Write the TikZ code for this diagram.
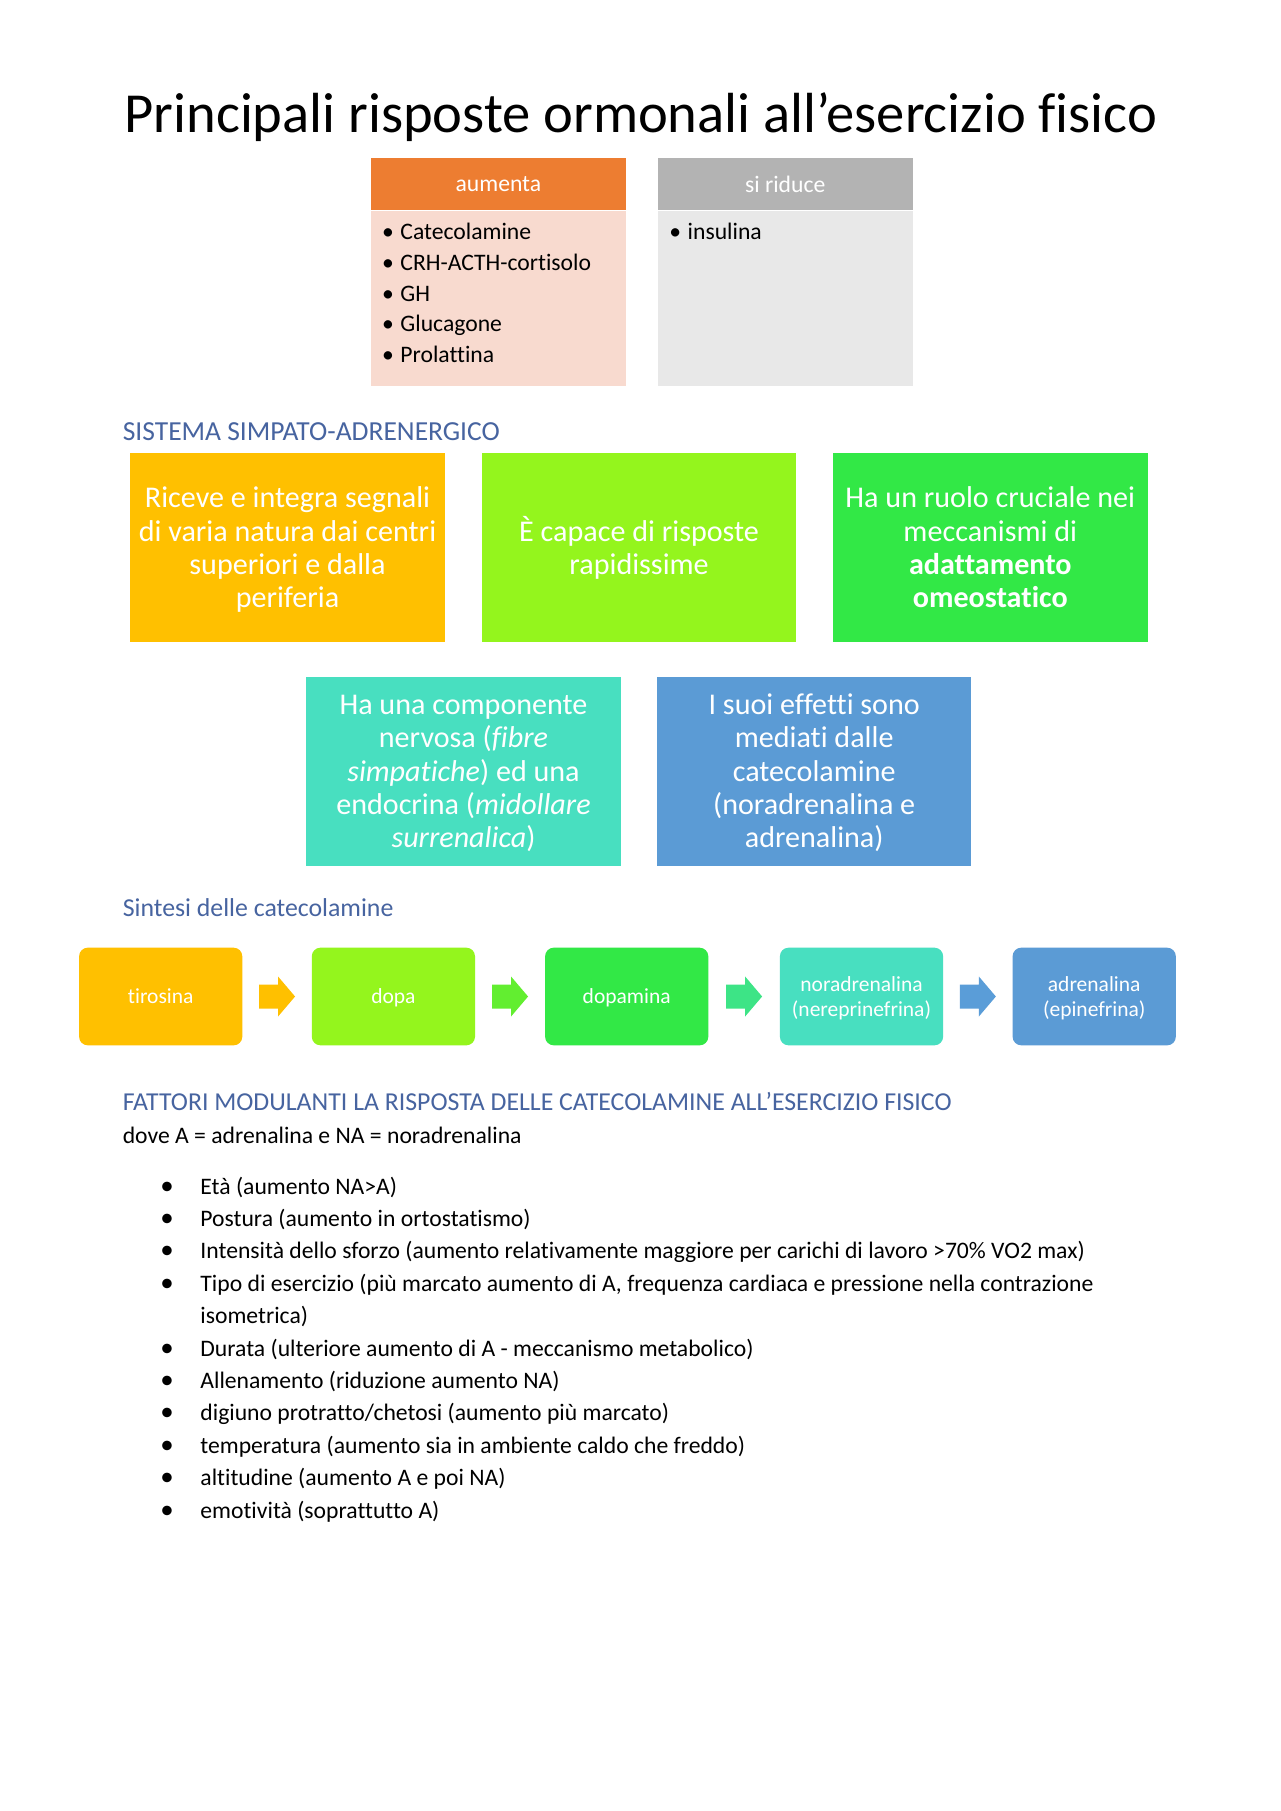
\documentclass[tikz,border=0pt]{standalone}
\usepackage{fontspec}
\setmainfont[Ligatures=NoCommon]{Carlito}
\usetikzlibrary{calc}
\definecolor{orH}{HTML}{ED7D31}
\definecolor{orB}{HTML}{F8DACF}
\definecolor{grH}{HTML}{B3B3B3}
\definecolor{grB}{HTML}{E8E8E8}
\definecolor{cA}{HTML}{FFC000}
\definecolor{cB}{HTML}{94F51D}
\definecolor{cC}{HTML}{32E846}
\definecolor{cD}{HTML}{48DFC0}
\definecolor{cE}{HTML}{5B9BD5}
\definecolor{aB}{HTML}{62EE30}
\definecolor{aC}{HTML}{3DE486}
\definecolor{aD}{HTML}{5A9DD8}
\definecolor{hdc}{HTML}{4764A0}
\newcommand\myTopS{\rule{0pt}{14pt}}
\newcommand\myTopP{\rule{0pt}{10.3pt}}
\begin{document}
\begin{tikzpicture}[x=0.46506pt,y=-0.46506pt,
  txt/.style={inner sep=0pt,anchor=base west,font=\fontsize{11}{13.2}\selectfont},
  sbul/.style={inner sep=0pt,anchor=base,font=\fontsize{11}{13.2}\selectfont},
  bul/.style={inner sep=0pt,anchor=base,font=\fontsize{12.5}{14}\selectfont},
  hd/.style={inner sep=0pt,anchor=base west,text=hdc},
  colhead/.style={inner sep=0pt,minimum width=118.4pt,minimum height=24.6pt,text=white,font=\fontsize{11}{13.2}\selectfont},
  colbody/.style={inner sep=0pt,minimum width=118.4pt,minimum height=81.4pt,anchor=north},
  sbox/.style={inner sep=0pt,minimum width=146.2pt,minimum height=87.9pt,text=white,align=center,font=\fontsize{14}{15.4}\selectfont},
  pbox/.style={inner sep=0pt,minimum width=75.9pt,minimum height=45.4pt,rounded corners=4pt,text=white,align=center,font=\fontsize{10}{11.6}\selectfont}
]
\useasboundingbox[fill=white] (0,0) rectangle (1280,1811);

% title
\node[inner sep=0pt,anchor=base,font=\fontsize{26.3}{30}\selectfont] (title) at (641,133) {Principali risposte ormonali all’esercizio fisico};

% aumenta / si riduce
\node[colhead,fill=orH] (aumH) at (498.4,184) {aumenta};
\node[colbody,fill=orB] (aumB) at (aumH.south) {};
\node[colhead,fill=grH] (ridH) at (785.2,184) {si riduce};
\node[colbody,fill=grB] (ridB) at (ridH.south) {};

\node[sbul] (ab1) at (388,240) {•};
\node[txt] (ai1) at (400,240) {Catecolamine};
\node[sbul] (ab2) at (388,270.6) {•};
\node[txt] (ai2) at (400,270.6) {CRH-ACTH-cortisolo};
\node[sbul] (ab3) at (388,301.2) {•};
\node[txt] (ai3) at (400,301.2) {GH};
\node[sbul] (ab4) at (388,331.8) {•};
\node[txt] (ai4) at (400,331.8) {Glucagone};
\node[sbul] (ab5) at (388,362.4) {•};
\node[txt] (ai5) at (400,362.4) {Prolattina};
\node[sbul] (rb1) at (675.3,240) {•};
\node[txt] (ri1) at (687.3,240) {insulina};

% sistema simpato-adrenergico
\node[hd,font=\fontsize{12.8}{15}\selectfont] (h1) at (122.4,440) {SISTEMA SIMPATO-ADRENERGICO};
\node[sbox,fill=cA] (s1) at (287.5,547.5) {\myTopS Riceve e integra segnali\\di varia natura dai centri\\superiori e dalla\\periferia\strut};
\node[sbox,fill=cB] (s2) at (639.1,547.5) {\myTopS È capace di risposte\\rapidissime\strut};
\node[sbox,fill=cC] (s3) at (990.3,547.5) {\myTopS Ha un ruolo cruciale nei\\meccanismi di\\\textbf{adattamento}\\\textbf{omeostatico}\strut};
\node[sbox,fill=cD] (s4) at (463.5,771) {\myTopS Ha una componente\\nervosa (\textit{fibre}\\\textit{simpatiche}) ed una\\endocrina (\textit{midollare}\\\textit{surrenalica})\strut};
\node[sbox,fill=cE] (s5) at (814.2,771) {\myTopS I suoi effetti sono\\mediati dalle\\catecolamine\\(noradrenalina e\\adrenalina)\strut};

% sintesi
\node[hd,font=\fontsize{12}{14}\selectfont] (h2) at (122.4,916) {Sintesi delle catecolamine};
\node[pbox,fill=cA] (p1) at (160.7,996.5) {\myTopP tirosina\strut};
\node[pbox,fill=cB] (p2) at (393.4,996.5) {\myTopP dopa\strut};
\node[pbox,fill=cC] (p3) at (626.7,996.5) {\myTopP dopamina\strut};
\node[pbox,fill=cD] (p4) at (861.5,996.5) {\myTopP noradrenalina\\(nereprinefrina)\strut};
\node[pbox,fill=cE] (p5) at (1094.2,996.5) {\myTopP adrenalina\\(epinefrina)\strut};
\coordinate (m1) at ($(p1.east)!0.5!(p2.west)$);
\coordinate (m2) at ($(p2.east)!0.5!(p3.west)$);
\coordinate (m3) at ($(p3.east)!0.5!(p4.west)$);
\coordinate (m4) at ($(p4.east)!0.5!(p5.west)$);
\foreach \m/\c in {m1/cA,m2/aB,m3/aC,m4/aD}{
  \fill[\c] (\m) ++(-18,-12) -- ++(19,0) -- ++(0,-8) -- ++(17,20) -- ++(-17,20) -- ++(0,-8) -- ++(-19,0) -- cycle;
}

% fattori
\node[hd,font=\fontsize{12}{14}\selectfont] (h3) at (122.4,1110) {FATTORI MODULANTI LA RISPOSTA DELLE CATECOLAMINE ALL’ESERCIZIO FISICO};
\node[txt] (dove) at (122.4,1143) {dove A = adrenalina e NA = noradrenalina};

\node[bul] (b1) at (167,1194) {•};
\node[txt] (l1) at (200,1194) {Età (aumento NA>A)};
\node[bul] (b2) at (167,1226.4) {•};
\node[txt] (l2) at (200,1226.4) {Postura (aumento in ortostatismo)};
\node[bul] (b3) at (167,1258.8) {•};
\node[txt] (l3) at (200,1258.8) {Intensità dello sforzo (aumento relativamente maggiore per carichi di lavoro >70\% VO2 max)};
\node[bul] (b4) at (167,1291.2) {•};
\node[txt] (l4) at (200,1291.2) {Tipo di esercizio (più marcato aumento di A, frequenza cardiaca e pressione nella contrazione};
\node[txt] (l4b) at (200,1323.6) {isometrica)};
\node[bul] (b5) at (167,1356) {•};
\node[txt] (l5) at (200,1356) {Durata (ulteriore aumento di A - meccanismo metabolico)};
\node[bul] (b6) at (167,1388.4) {•};
\node[txt] (l6) at (200,1388.4) {Allenamento (riduzione aumento NA)};
\node[bul] (b7) at (167,1420.8) {•};
\node[txt] (l7) at (200,1420.8) {digiuno protratto/chetosi (aumento più marcato)};
\node[bul] (b8) at (167,1453.2) {•};
\node[txt] (l8) at (200,1453.2) {temperatura (aumento sia in ambiente caldo che freddo)};
\node[bul] (b9) at (167,1485.6) {•};
\node[txt] (l9) at (200,1485.6) {altitudine (aumento A e poi NA)};
\node[bul] (b10) at (167,1518) {•};
\node[txt] (l10) at (200,1518) {emotività (soprattutto A)};
\end{tikzpicture}
\end{document}
